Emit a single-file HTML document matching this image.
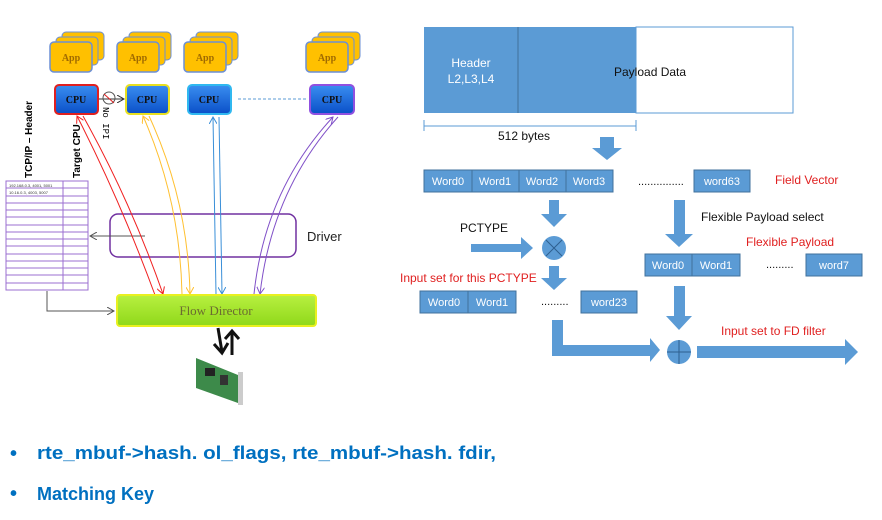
<!DOCTYPE html>
<html><head><meta charset="utf-8"><style>body{margin:0;background:#fff}svg{display:block}</style></head><body>
<svg width="882" height="520" viewBox="0 0 882 520" xmlns="http://www.w3.org/2000/svg" font-family="Liberation Sans, sans-serif">
<defs>
<marker id="ah" markerWidth="8" markerHeight="8" refX="7" refY="4" orient="auto-start-reverse" markerUnits="userSpaceOnUse"><path d="M0,0 L7,4 L0,8" fill="none" stroke="context-stroke" stroke-width="1"/></marker>
<linearGradient id="cpu" x1="0" y1="0" x2="0" y2="1"><stop offset="0" stop-color="#3a8ef0"/><stop offset="1" stop-color="#0a4fc8"/></linearGradient>
<linearGradient id="fd" x1="0" y1="0" x2="0" y2="1"><stop offset="0" stop-color="#b8f040"/><stop offset="1" stop-color="#8fd81a"/></linearGradient>
</defs>
<g font-family="Liberation Serif, serif" font-size="10" font-weight="bold" fill="#a06a00" text-anchor="middle">
<g transform="translate(50,42)"><rect x="12" y="-10" width="42" height="28" rx="4" fill="#ffc000" stroke="#6b8fd6"/><rect x="6" y="-5" width="42" height="28" rx="4" fill="#ffc000" stroke="#6b8fd6"/><rect x="0" y="0" width="42" height="30" rx="4" fill="#ffc000" stroke="#6b8fd6" stroke-width="1.5"/><text x="21" y="19">App</text></g>
<g transform="translate(117,42)"><rect x="12" y="-10" width="42" height="28" rx="4" fill="#ffc000" stroke="#6b8fd6"/><rect x="6" y="-5" width="42" height="28" rx="4" fill="#ffc000" stroke="#6b8fd6"/><rect x="0" y="0" width="42" height="30" rx="4" fill="#ffc000" stroke="#6b8fd6" stroke-width="1.5"/><text x="21" y="19">App</text></g>
<g transform="translate(184,42)"><rect x="12" y="-10" width="42" height="28" rx="4" fill="#ffc000" stroke="#6b8fd6"/><rect x="6" y="-5" width="42" height="28" rx="4" fill="#ffc000" stroke="#6b8fd6"/><rect x="0" y="0" width="42" height="30" rx="4" fill="#ffc000" stroke="#6b8fd6" stroke-width="1.5"/><text x="21" y="19">App</text></g>
<g transform="translate(306,42)"><rect x="12" y="-10" width="42" height="28" rx="4" fill="#ffc000" stroke="#6b8fd6"/><rect x="6" y="-5" width="42" height="28" rx="4" fill="#ffc000" stroke="#6b8fd6"/><rect x="0" y="0" width="42" height="30" rx="4" fill="#ffc000" stroke="#6b8fd6" stroke-width="1.5"/><text x="21" y="19">App</text></g>
</g>
<g font-family="Liberation Serif, serif" font-size="10" font-weight="bold" fill="#111" text-anchor="middle">
<rect x="55" y="85" width="43" height="29" rx="4" fill="url(#cpu)" stroke="#e02020" stroke-width="2"/><text x="76" y="103">CPU</text>
<rect x="126" y="85" width="43" height="29" rx="4" fill="url(#cpu)" stroke="#e8e020" stroke-width="2"/><text x="147" y="103">CPU</text>
<rect x="188" y="85" width="43" height="29" rx="4" fill="url(#cpu)" stroke="#30b8f0" stroke-width="2"/><text x="209" y="103">CPU</text>
<rect x="310" y="85" width="44" height="29" rx="4" fill="url(#cpu)" stroke="#9050e0" stroke-width="2"/><text x="332" y="103">CPU</text>
</g>
<line x1="238" y1="99" x2="306" y2="99" stroke="#5b9bd5" stroke-dasharray="3,2"/>
<line x1="99" y1="99" x2="124" y2="99" stroke="#333" marker-end="url(#ah)"/>
<circle cx="109" cy="98" r="6" fill="none" stroke="#555"/><line x1="104" y1="94" x2="114" y2="103" stroke="#e02020"/>
<text transform="translate(103,107) rotate(90)" font-size="9" font-family="Liberation Mono, monospace">No IPI</text>
<g stroke="#9b6fd0" fill="none" stroke-width="1">
<rect x="6" y="181" width="82" height="109"/>
<line x1="63" y1="181" x2="63" y2="290"/>
<path d="M6,188H88M6,196H88M6,203H88M6,210H88M6,217H88M6,225H88M6,232H88M6,239H88M6,246H88M6,254H88M6,261H88M6,268H88M6,275H88M6,283H88"/>
</g>
<text x="9" y="187" font-size="4" fill="#333">192.168.0.3, 4001, 5001</text><text x="9" y="194" font-size="4" fill="#333">10.16.0.3, 4003, 5007</text>
<text transform="translate(32,178) rotate(-90)" font-size="10" font-weight="bold">TCP/IP – Header</text>
<text transform="translate(80,178) rotate(-90)" font-size="10" font-weight="bold">Target CPU</text>
<rect x="110" y="214" width="186" height="43" rx="8" fill="none" stroke="#7030a0" stroke-width="1.5"/>
<text x="307" y="241" font-size="13" fill="#222">Driver</text>
<line x1="145" y1="236" x2="90" y2="236" stroke="#555" marker-end="url(#ah)"/>
<path d="M47,291V311H114" fill="none" stroke="#555" marker-end="url(#ah)"/>
<g fill="none" stroke-width="1">
<path d="M77,116 Q120,200 155,295" stroke="#f02020" marker-start="url(#ah)"/>
<path d="M83,116 Q130,200 163,294" stroke="#f02020" marker-end="url(#ah)"/>
<path d="M143,116 Q180,200 182,294" stroke="#ffc030" marker-start="url(#ah)"/>
<path d="M149,116 Q188,200 190,294" stroke="#ffc030" marker-end="url(#ah)"/>
<path d="M213,117 L216,294" stroke="#3a8fd8" marker-start="url(#ah)"/>
<path d="M219,117 L222,294" stroke="#3a8fd8" marker-end="url(#ah)"/>
<path d="M333,117 Q265,190 254,294" stroke="#8050c8" marker-start="url(#ah)"/>
<path d="M338,117 Q272,190 260,294" stroke="#8050c8" marker-end="url(#ah)"/>
</g>
<rect x="117" y="295" width="199" height="31" rx="3" fill="url(#fd)" stroke="#e8f020" stroke-width="2"/>
<text x="216" y="315" text-anchor="middle" font-family="Liberation Serif, serif" font-size="13" fill="#6b6b30">Flow Director</text>
<g stroke="#111" stroke-width="3" fill="none">
<path d="M218,328 L222,352"/><path d="M214,344 L222,353 L228,343"/>
<path d="M232,355 L232,332"/><path d="M225,339 L232,331 L239,339"/>
</g>
<polygon points="196,358 238,375 238,403 196,388" fill="#3d8a4a"/>
<rect x="205" y="368" width="10" height="8" fill="#222"/><rect x="220" y="375" width="8" height="10" fill="#333"/>
<rect x="238" y="372" width="5" height="33" fill="#ccc"/>
<rect x="424" y="27" width="212" height="86" fill="#5b9bd5"/>
<rect x="636" y="27" width="157" height="86" fill="#fff" stroke="#5b9bd5"/>
<line x1="518" y1="27" x2="518" y2="113" stroke="#41719c"/>
<text x="471" y="67" text-anchor="middle" font-size="12" fill="#fff">Header</text>
<text x="471" y="83" text-anchor="middle" font-size="12" fill="#fff">L2,L3,L4</text>
<text x="614" y="76" font-size="12" fill="#111">Payload Data</text>
<line x1="424" y1="126" x2="636" y2="126" stroke="#5b9bd5"/><line x1="424" y1="120" x2="424" y2="131" stroke="#5b9bd5"/><line x1="636" y1="120" x2="636" y2="131" stroke="#5b9bd5"/>
<text x="498" y="140" font-size="12" fill="#111">512 bytes</text>
<g fill="#5b9bd5">
<polygon points="600,137 614,137 614,148 622,148 607,160 592,148 600,148"/>
<polygon points="549,200 559,200 559,214 567,214 554,227 541,214 549,214"/>
<polygon points="471,244 521,244 521,237 533,248 521,259 521,252 471,252"/>
<polygon points="549,266 559,266 559,278 567,278 554,290 541,278 549,278"/>
<polygon points="674,200 685,200 685,234 693,234 679,247 665,234 674,234"/>
<polygon points="674,286 685,286 685,316 692,316 679,330 666,316 674,316"/>
<polygon points="552,320 563,320 563,345 650,345 650,338 660,350 650,362 650,356 552,356"/>
<polygon points="697,346 845,346 845,339 858,352 845,365 845,358 697,358"/>
<circle cx="554" cy="248" r="12"/><circle cx="679" cy="352" r="12"/>
</g>
<path d="M546,240 L562,256 M562,240 L546,256" stroke="#2e5f90"/>
<path d="M667,352 H691 M679,340 V364" stroke="#2e5f90"/>
<g fill="#5b9bd5" stroke="#41719c">
<rect x="424" y="170" width="48" height="22"/><rect x="472" y="170" width="47" height="22"/><rect x="519" y="170" width="47" height="22"/><rect x="566" y="170" width="47" height="22"/><rect x="694" y="170" width="56" height="22"/>
<rect x="420" y="291" width="48" height="22"/><rect x="468" y="291" width="48" height="22"/><rect x="581" y="291" width="56" height="22"/>
<rect x="645" y="254" width="47" height="22"/><rect x="692" y="254" width="48" height="22"/><rect x="806" y="254" width="56" height="22"/>
</g>
<g font-size="11" fill="#fff" text-anchor="middle">
<text x="448" y="185">Word0</text><text x="495" y="185">Word1</text><text x="542" y="185">Word2</text><text x="589" y="185">Word3</text><text x="722" y="185">word63</text>
<text x="444" y="306">Word0</text><text x="492" y="306">Word1</text><text x="609" y="306">word23</text>
<text x="668" y="269">Word0</text><text x="716" y="269">Word1</text><text x="834" y="269">word7</text>
</g>
<g font-size="11" fill="#111">
<text x="638" y="185">...............</text><text x="541" y="305">.........</text><text x="766" y="268">.........</text>
<text x="460" y="232" font-size="12">PCTYPE</text>
<text x="701" y="221" font-size="12">Flexible Payload select</text>
</g>
<g font-size="12" fill="#e02020">
<text x="775" y="184">Field Vector</text>
<text x="746" y="246">Flexible Payload</text>
<text x="400" y="282">Input set for this PCTYPE</text>
<text x="721" y="335">Input set to FD filter</text>
</g>
<g fill="#0070c0" font-weight="bold" font-size="18">
<text x="10" y="460" font-size="20">•</text><text x="10" y="500" font-size="20">•</text>
<text x="37" y="459" textLength="459" lengthAdjust="spacingAndGlyphs">rte_mbuf-&gt;hash. ol_flags, rte_mbuf-&gt;hash. fdir,</text>
<text x="37" y="500">Matching Key</text>
</g>
</svg>
</body></html>
